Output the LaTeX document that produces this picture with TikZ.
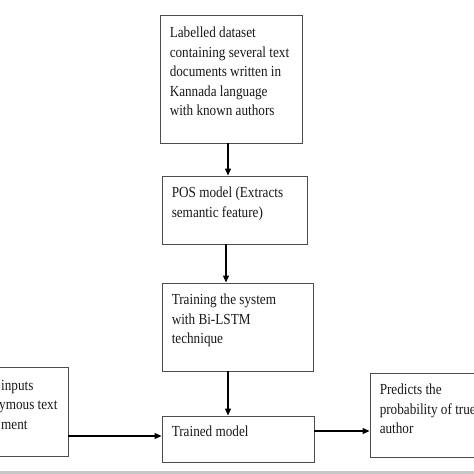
\documentclass[tikz,border=0pt]{standalone}
\usepackage{fontspec}
\setmainfont{Liberation Serif}[FakeStretch=0.86]
\usetikzlibrary{arrows.meta,calc}
\begin{document}
\begin{tikzpicture}[x=1bp,y=-1bp,
  boxline/.style={draw=black!70, line width=0.9bp},
  txt/.style={anchor=north west, inner sep=0pt, align=left,
    font=\fontsize{15.4}{19.5}\selectfont, text=black!90},
  arr/.style={line width=1.1bp, draw=black, -{Triangle[length=7bp,width=6bp]}}]
\useasboundingbox (0,0) rectangle (474,474);
\clip (0,0) rectangle (474,474);
\fill[white] (0,0) rectangle (474,474);
\fill[black!22] (0,471) rectangle (474,474);
% boxes
\node[boxline, minimum width=142bp, minimum height=128bp, inner sep=0pt] (b1) at (231,79) {};
\node[boxline, minimum width=145bp, minimum height=68bp, inner sep=0pt] (b2) at (234.5,210) {};
\node[boxline, minimum width=151bp, minimum height=88bp, inner sep=0pt] (b3) at (237.5,327) {};
\node[boxline, minimum width=152bp, minimum height=46bp, inner sep=0pt] (b4) at (238,439) {};
\node[boxline, minimum width=78bp, minimum height=89bp, inner sep=0pt] (b5) at (29,411.5) {};
\node[boxline, minimum width=120bp, minimum height=84bp, inner sep=0pt] (b6) at (430,415) {};
% texts
\node[txt] (t1) at ($(b1.north west)+(10,9.4)$) {\strut Labelled dataset\\\strut containing several text\\\strut documents written in\\\strut Kannada language\\\strut with known authors};
\node[txt] (t2) at ($(b2.north west)+(10,8.4)$) {\strut POS model (Extracts\\\strut semantic feature)};
\node[txt] (t3) at ($(b3.north west)+(10,8.4)$) {\strut Training the system\\\strut with Bi-LSTM\\\strut technique};
\node[txt] (t4) at ($(b4.north west)+(10,7.4)$) {\strut Trained model};
\node[txt] (t5) at (1,376.4) {\strut inputs\\\hspace*{-2bp}\strut ymous text\\\strut ment};
\node[txt] (t6) at ($(b6.north west)+(10,8.4)$) {\strut Predicts the\\\strut probability of true\\\strut author};
% connectors
\draw[arr] (b1.south -| 228,0) -- (b2.north -| 228,0);
\draw[arr] (b2.south -| 226,0) -- (b3.north -| 226,0);
\draw[arr] (b3.south -| 228,0) -- (b4.north -| 228,0);
\draw[arr] (b5.east |- 0,436) -- (b4.west |- 0,436);
\draw[arr] (b4.east |- 0,431) -- (b6.west |- 0,431);
\end{tikzpicture}
\end{document}
